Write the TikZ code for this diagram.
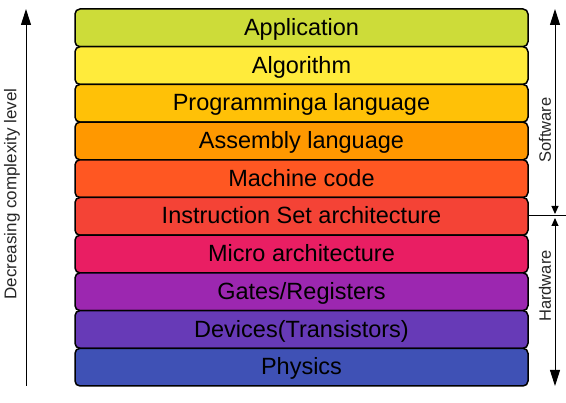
\documentclass[tikz,border=0pt]{standalone}
\usepackage{fontspec}
\setmainfont{Liberation Sans}
\usetikzlibrary{arrows.meta}
\definecolor{c0}{HTML}{CDDC39}
\definecolor{c1}{HTML}{FFEB3B}
\definecolor{c2}{HTML}{FFC107}
\definecolor{c3}{HTML}{FF9800}
\definecolor{c4}{HTML}{FF5722}
\definecolor{c5}{HTML}{F44336}
\definecolor{c6}{HTML}{E91E63}
\definecolor{c7}{HTML}{9C27B0}
\definecolor{c8}{HTML}{673AB7}
\definecolor{c9}{HTML}{3F51B5}
\tikzset{
  layerbox/.style={draw=black, line width=1.5pt, rounded corners=5pt,
    minimum width=453pt, minimum height=37.7pt, inner sep=0pt,
    text height=20pt, text depth=4.8pt,
    font=\fontsize{23.5}{26}\selectfont, text=black},
  sidelabel/.style={font=\fontsize{16.5}{18}\selectfont, rotate=90, inner sep=0pt},
  bigtip/.tip={Triangle[length=16pt,width=10pt]},
  smalltip/.tip={Triangle[length=8pt,width=7pt]},
  axis/.style={line width=1pt, draw=black}
}
\begin{document}
\begin{tikzpicture}[x=1pt,y=-1pt]
\useasboundingbox (0,0) rectangle (566,403);
\foreach \i/\t in {0/Application,1/Algorithm,2/Programminga language,3/Assembly language,4/Machine code,5/Instruction Set architecture,6/Micro architecture,7/Gates\slash Registers,8/Devices(Transistors),9/Physics}{
  \node[layerbox, fill=c\i] (b\i) at (301.5,{27.85+37.7*\i}) {\t};
}
% left arrow
\coordinate (lb) at (26,386);
\coordinate (lt) at (26,9);
\draw[axis,-bigtip] (lb) -- (lt);
\node[sidelabel, font=\fontsize{17}{19}\selectfont, text=black!85] (ltext) at (12,194) {Decreasing complexity level};
% right arrows
\coordinate (st) at (555,9);
\coordinate (sb) at (555,214);
\coordinate (ht) at (555,218);
\coordinate (hb) at (555,386);
\coordinate (mr) at (566,216);
\draw[axis,smalltip-bigtip] (sb) -- (st);
\draw[axis,smalltip-bigtip] (ht) -- (hb);
\draw[axis] (b5.east |- mr) -- (mr);
\node[sidelabel, text=black!85] (sw) at (545,130) {Software};
\node[sidelabel, text=black!85] (hw) at (545,286) {Hardware};
\end{tikzpicture}
\end{document}
